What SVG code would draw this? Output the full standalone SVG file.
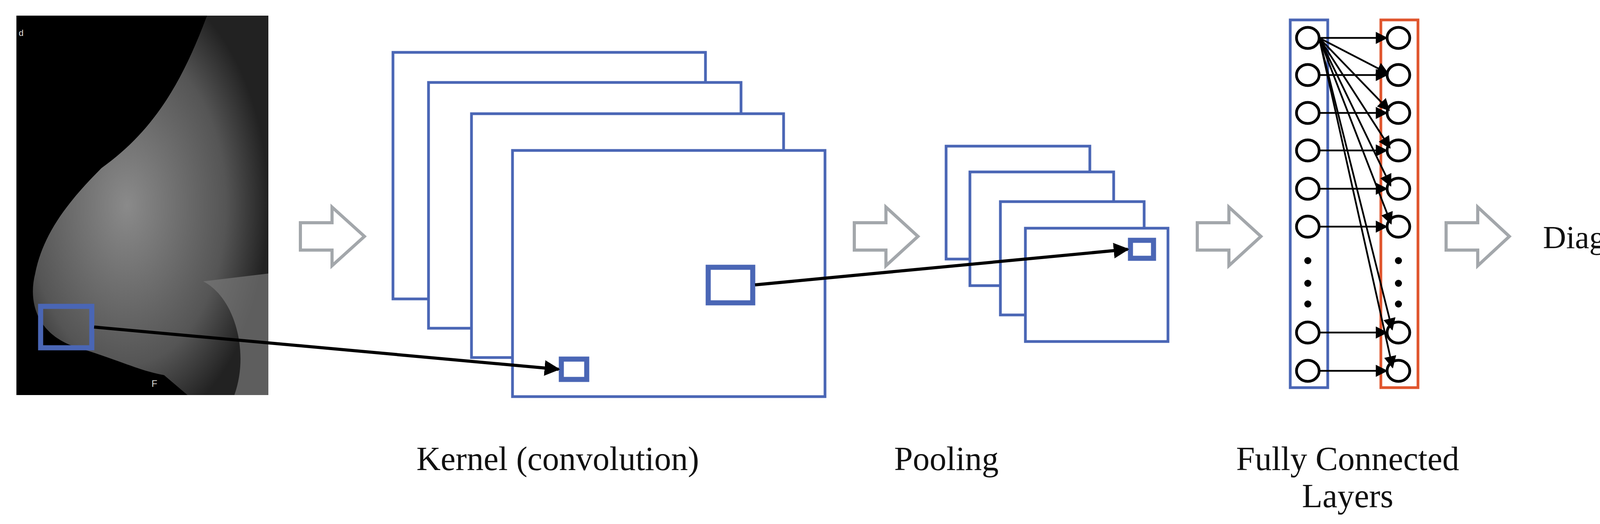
<svg xmlns="http://www.w3.org/2000/svg" width="4336" height="1341" viewBox="0 0 4336 1341">
<style>
.fr{fill:#fff;stroke:#4a66b5;stroke-width:7}
.tb{fill:none;stroke:#4a66b5;stroke-width:13}
.ga{fill:#fff;stroke:#a3a7ab;stroke-width:8;stroke-linejoin:miter}
.ln{stroke:#000;stroke-width:8;fill:none}
.fl{stroke:#000;stroke-width:4.5;fill:none}
.nd{fill:#fff;stroke:#000;stroke-width:7}
.t{font-family:"Liberation Serif",serif;font-size:86px;fill:#111}
</style>
<defs>
<marker id="ah" viewBox="0 0 10 10" refX="9" refY="5" markerWidth="5" markerHeight="5" orient="auto" markerUnits="strokeWidth"><path d="M0,0L10,5L0,10z" fill="#000"/></marker>
<marker id="ahs" viewBox="0 0 10 10" refX="9" refY="5" markerWidth="7" markerHeight="7" orient="auto" markerUnits="strokeWidth"><path d="M0,0L10,5L0,10z" fill="#000"/></marker>
<radialGradient id="g1" cx="0.4" cy="0.5" r="0.6"><stop offset="0" stop-color="#8a8a8a"/><stop offset="0.7" stop-color="#555"/><stop offset="1" stop-color="#222"/></radialGradient>
</defs>
<rect width="4336" height="1341" fill="#fff"/>
<g id="image">
<rect x="42" y="40" width="645" height="971" fill="#000"/>
<path d="M530,40 C470,200 400,330 260,430 C170,520 110,600 90,700 C70,780 100,860 200,890 C300,920 360,950 420,960 L480,1011 L687,1011 L687,40 Z" fill="url(#g1)"/>
<path d="M520,720 C600,760 640,900 600,1011 L687,1011 L687,700 Z" fill="#777" opacity="0.7"/>
<text x="48" y="92" font-family="Liberation Sans,sans-serif" font-size="22" fill="#ddd">d</text>
<text x="388" y="990" font-family="Liberation Sans,sans-serif" font-size="24" fill="#ddd">F</text>
<rect class="tb" x="104" y="784" width="131" height="106"/>
</g>
<g id="conv">
<rect class="fr" x="1006" y="134" width="800" height="631"/>
<rect class="fr" x="1097" y="211" width="800" height="629"/>
<rect class="fr" x="1207" y="291" width="799" height="624"/>
<rect class="fr" x="1312" y="385" width="800" height="630"/>
<rect class="tb" x="1437" y="919" width="65" height="52"/>
<rect class="tb" x="1813" y="684" width="114" height="91"/>
</g>
<g id="pool">
<rect class="fr" x="2422" y="374" width="368" height="289"/>
<rect class="fr" x="2483" y="440" width="368" height="291"/>
<rect class="fr" x="2561" y="516" width="368" height="290"/>
<rect class="fr" x="2625" y="584" width="365" height="290"/>
<rect class="tb" x="2894" y="615" width="59" height="46"/>
</g>
<g id="garrows">
<path class="ga" d="M769,570 L850,570 L850,530 L933,605 L850,680 L850,640 L769,640 Z"/>
<path class="ga" d="M2187,570 L2268,570 L2268,530 L2350,605 L2268,680 L2268,640 L2187,640 Z"/>
<path class="ga" d="M3065,570 L3146,570 L3146,530 L3228,605 L3146,680 L3146,640 L3065,640 Z"/>
<path class="ga" d="M3702,570 L3783,570 L3783,530 L3864,605 L3783,680 L3783,640 L3702,640 Z"/>
</g>
<g id="fc">
<rect x="3303" y="51" width="96" height="941" fill="#fff" stroke="#4a66b5" stroke-width="7"/>
<rect x="3535" y="51" width="95" height="941" fill="#fff" stroke="#e0552d" stroke-width="7"/>
<g>
<ellipse class="nd" cx="3348" cy="97" rx="29" ry="27"/><ellipse class="nd" cx="3348" cy="192" rx="29" ry="27"/>
<ellipse class="nd" cx="3348" cy="289" rx="29" ry="27"/><ellipse class="nd" cx="3348" cy="385" rx="29" ry="27"/>
<ellipse class="nd" cx="3348" cy="483" rx="29" ry="27"/><ellipse class="nd" cx="3348" cy="580" rx="29" ry="27"/>
<ellipse class="nd" cx="3348" cy="851" rx="29" ry="27"/><ellipse class="nd" cx="3348" cy="949" rx="29" ry="27"/>
<ellipse class="nd" cx="3580" cy="97" rx="29" ry="27"/><ellipse class="nd" cx="3580" cy="192" rx="29" ry="27"/>
<ellipse class="nd" cx="3580" cy="289" rx="29" ry="27"/><ellipse class="nd" cx="3580" cy="385" rx="29" ry="27"/>
<ellipse class="nd" cx="3580" cy="483" rx="29" ry="27"/><ellipse class="nd" cx="3580" cy="580" rx="29" ry="27"/>
<ellipse class="nd" cx="3580" cy="851" rx="29" ry="27"/><ellipse class="nd" cx="3580" cy="949" rx="29" ry="27"/>
<circle cx="3348" cy="667" r="9"/><circle cx="3348" cy="725" r="9"/><circle cx="3348" cy="778" r="9"/>
<circle cx="3580" cy="667" r="9"/><circle cx="3580" cy="725" r="9"/><circle cx="3580" cy="778" r="9"/>
</g>
</g>
<g id="connectors">
<line class="ln" x1="241" y1="837" x2="1430" y2="945" marker-end="url(#ah)"/>
<line class="ln" x1="1933" y1="729" x2="2887" y2="638" marker-end="url(#ah)"/>
<g class="fl">
<line x1="3377" y1="97" x2="3550" y2="97" marker-end="url(#ahs)"/>
<line x1="3377" y1="192" x2="3550" y2="192" marker-end="url(#ahs)"/>
<line x1="3377" y1="289" x2="3550" y2="289" marker-end="url(#ahs)"/>
<line x1="3377" y1="385" x2="3550" y2="385" marker-end="url(#ahs)"/>
<line x1="3377" y1="483" x2="3550" y2="483" marker-end="url(#ahs)"/>
<line x1="3377" y1="580" x2="3550" y2="580" marker-end="url(#ahs)"/>
<line x1="3377" y1="851" x2="3550" y2="851" marker-end="url(#ahs)"/>
<line x1="3377" y1="949" x2="3550" y2="949" marker-end="url(#ahs)"/>
<line x1="3377" y1="97" x2="3553" y2="188" marker-end="url(#ahs)"/>
<line x1="3377" y1="97" x2="3556" y2="282" marker-end="url(#ahs)"/>
<line x1="3377" y1="97" x2="3558" y2="378" marker-end="url(#ahs)"/>
<line x1="3377" y1="97" x2="3560" y2="475" marker-end="url(#ahs)"/>
<line x1="3377" y1="97" x2="3561" y2="572" marker-end="url(#ahs)"/>
<line x1="3377" y1="97" x2="3564" y2="843" marker-end="url(#ahs)"/>
<line x1="3377" y1="97" x2="3565" y2="940" marker-end="url(#ahs)"/>
</g>
</g>
<g id="labels">
<text class="t" x="1066" y="1203">Kernel (convolution)</text>
<text class="t" x="2289" y="1203">Pooling</text>
<text class="t" x="3450" y="1203" text-anchor="middle">Fully Connected</text>
<text class="t" x="3450" y="1298" text-anchor="middle">Layers</text>
<text class="t" x="3950" y="635" style="font-size:82px">Diagnosis</text>
</g>
</svg>
